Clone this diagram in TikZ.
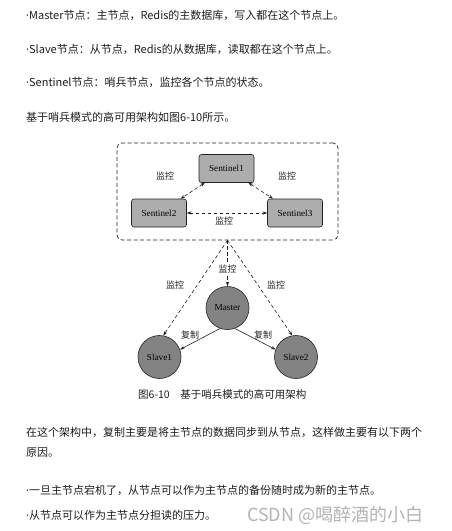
\documentclass[tikz,border=0pt]{standalone}
\usepackage{fontspec}
\setmainfont{Noto Sans CJK SC}
\newfontfamily\serifr{Liberation Serif}
\newfontfamily\latinsans{Noto Sans}
\newcommand{\bdot}{{\latinsans ·}}
\usetikzlibrary{arrows.meta}
\definecolor{bodytext}{HTML}{1E1E1E}
\definecolor{sentfill}{HTML}{ADADAD}
\definecolor{nodefill}{HTML}{838383}
\definecolor{linecol}{HTML}{222222}
\definecolor{wmark}{HTML}{B4B4B4}
\tikzset{
  body/.style={anchor=west, inner sep=0pt, text=bodytext, font=\fontsize{11}{13}\selectfont},
  sentbox/.style={draw=linecol, line width=0.6pt, fill=sentfill, rounded corners=2.5pt,
    minimum width=55pt, minimum height=28pt, inner sep=0pt, font=\serifr\fontsize{9.2}{11}\selectfont},
  redisnode/.style={draw=linecol, line width=0.6pt, fill=nodefill, circle,
    minimum size=43pt, inner sep=0pt, font=\serifr\fontsize{9.2}{11}\selectfont},
  grpbox/.style={draw=linecol, line width=0.7pt, dash pattern=on 4pt off 2.5pt, rounded corners=5pt,
    minimum width=221pt, minimum height=97pt, inner sep=0pt},
  mon/.style={draw=linecol, line width=0.6pt, dash pattern=on 3.5pt off 2.5pt},
  rep/.style={draw=linecol, line width=0.6pt},
  tip/.style={-{Stealth[length=4.5pt,width=3.2pt]}},
  bitip/.style={{Stealth[length=4.5pt,width=3.2pt]}-{Stealth[length=4.5pt,width=3.2pt]}},
  lbl/.style={inner sep=0.5pt, text=linecol, font=\fontsize{9}{10}\selectfont},
}
\begin{document}
\begin{tikzpicture}[x=1pt,y=-1pt]
\useasboundingbox[fill=white] (0,0) rectangle (451,531);

% body text top
\node[body] (t1) at (26,15) {\bdot Master节点：主节点，Redis的主数据库，写入都在这个节点上。};
\node[body] (t2) at (26,49) {\bdot Slave节点：从节点，Redis的从数据库，读取都在这个节点上。};
\node[body] (t3) at (26,82) {\bdot Sentinel节点：哨兵节点，监控各个节点的状态。};
\node[body] (t4) at (26,117) {基于哨兵模式的高可用架构如图6-10所示。};

% diagram
\node[grpbox] (grp) at (227.5,191.5) {};
\coordinate (apex) at (grp.south);
\node[sentbox] (s1) at (226.5,168.5) {Sentinel1};
\node[sentbox] (s2) at (159,213) {Sentinel2};
\node[sentbox] (s3) at (295,213) {Sentinel3};

\draw[mon,bitip] (s1) -- (s2);
\draw[mon,bitip] (s1) -- (s3);
\draw[mon,bitip] (s2) -- (s3);
\node[lbl] (l1) at (165,176) {监控};
\node[lbl] (l2) at (287,176) {监控};
\node[lbl] (l3) at (224,221) {监控};

\node[redisnode] (ma) at (227.5,308) {Master};
\node[redisnode] (sl1) at (159.5,357) {Slave1};
\node[redisnode] (sl2) at (296,357) {Slave2};

\draw[mon,tip] (apex) -- (sl1.80);
\draw[mon,tip] (apex) -- (ma.north);
\draw[mon,tip] (apex) -- (sl2.100);
\node[lbl] (l4) at (175,285) {监控};
\node[lbl, fill=white] (l5) at (227.5,269) {监控};
\node[lbl] (l6) at (276,285) {监控};

\draw[rep,tip] (ma.250) -- (sl1.20);
\draw[rep,tip] (ma.290) -- (sl2.160);
\node[lbl] (l7) at (190,335) {复制};
\node[lbl] (l8) at (263,335) {复制};

\node[anchor=west, inner sep=0pt, text=bodytext, font=\fontsize{10.5}{12}\selectfont] (cap) at (138,395) {图6-10\quad 基于哨兵模式的高可用架构};

% body text bottom
\node[body] (t5) at (26,432) {在这个架构中，复制主要是将主节点的数据同步到从节点，这样做主要有以下两个};
\node[body] (t6) at (26,453) {原因。};
\node[body] (t7) at (26,490) {\bdot 一旦主节点宕机了，从节点可以作为主节点的备份随时成为新的主节点。};
\node[body] (t8) at (26,515) {\bdot 从节点可以作为主节点分担读的压力。};

\node[anchor=west, inner sep=0pt, text=wmark, font=\fontsize{18}{20}\selectfont] (wm) at (247,515) {CSDN @喝醉酒的小白};
\end{tikzpicture}
\end{document}
